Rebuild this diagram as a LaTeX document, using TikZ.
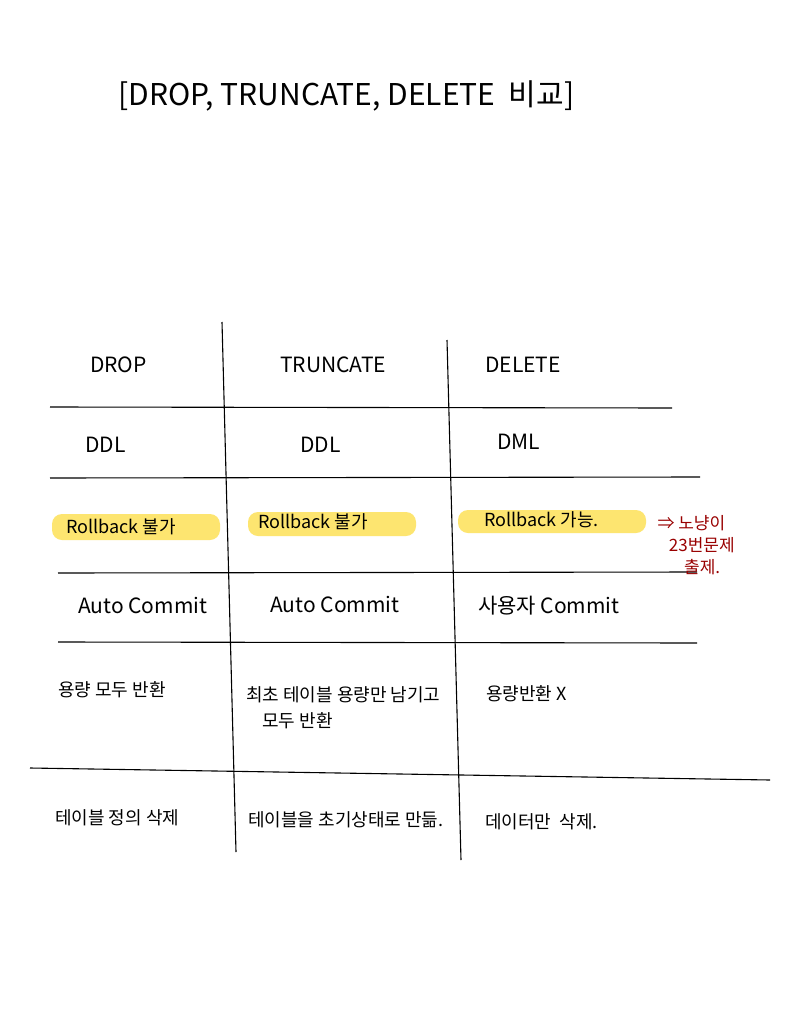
\documentclass[tikz,border=0pt]{standalone}
\usepackage{fontspec}
\setmainfont{Noto Sans CJK KR}
\begin{document}
\begin{tikzpicture}[x=1pt,y=-1pt,
  ln/.style={line width=1.1pt,black},
  cell/.style={font=\fontsize{21}{24}\selectfont,anchor=west,inner sep=0},
  sm/.style={font=\fontsize{18}{26}\selectfont},
  hl/.style={fill=yellow!70!orange!55,rounded corners=10pt},
  red/.style={text=red!60!black,font=\fontsize{17}{22}\selectfont,align=left}]
\useasboundingbox[fill=white] (0,0) rectangle (800,1033);
\node[font=\fontsize{30}{34}\selectfont,anchor=west] (title) at (115,96) {[DROP,\ TRUNCATE,\ DELETE\ \ 비교]};
% lines
\draw[ln] (50,407) -- (672,408);
\draw[ln] (50,478) -- (700,477);
\draw[ln] (58,573) -- (697,572);
\draw[ln] (58,642) -- (697,643);
\draw[ln] (30,768) -- (770,780);
\draw[ln] (222,322) -- (236,852);
\draw[ln] (447,340) -- (461,860);
% highlights
\fill[hl] (52,514) rectangle (220,540);
\fill[hl] (248,512) rectangle (416,536);
\fill[hl] (458,510) rectangle (646,533);
\node[cell] (a1) at (90,365) {DROP};
\node[cell] (b1) at (280,365) {TRUNCATE};
\node[cell] (c1) at (485,365) {DELETE};
\node[cell] (a2) at (85,445) {DDL};
\node[cell] (b2) at (300,445) {DDL};
\node[cell] (c2) at (497,442) {DML};
\node[cell,font=\fontsize{18}{20}\selectfont] (a3) at (66,527) {Rollback 불가};
\node[cell,font=\fontsize{18}{20}\selectfont] (b3) at (258,522) {Rollback 불가};
\node[cell,font=\fontsize{18}{20}\selectfont] (c3) at (484,520) {Rollback 가능.};
\node[red,anchor=west] (r) at (654,545) {⇒ 노냥이\\\ \ \ 23번문제\\\ \ \ \ \ \ \ 출제.};
\node[cell] (a4) at (78,605) {Auto Commit};
\node[cell] (b4) at (270,604) {Auto Commit};
\node[cell] (c4) at (478,606) {사용자 Commit};
\node[cell,sm] (a5) at (58,690) {용량 모두 반환};
\node[cell,sm,align=left] (b5) at (246,708) {최초 테이블 용량만 남기고\\\ \ \ \ 모두 반환};
\node[cell,sm] (c5) at (486,694) {용량반환 X};
\node[cell,sm] (a6) at (55,818) {테이블 정의 삭제};
\node[cell,sm] (b6) at (248,820) {테이블을 초기상태로 만듦.};
\node[cell,sm] (c6) at (485,822) {데이터만\ \ 삭제.};
\end{tikzpicture}
\end{document}
